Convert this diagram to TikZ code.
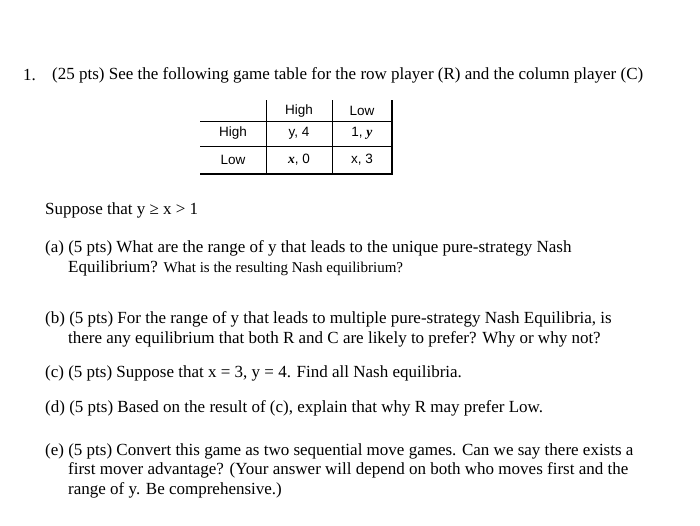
\documentclass[tikz,border=0pt]{standalone}
\usepackage{fontspec}
\setmainfont{Liberation Serif}
\newfontfamily\tabfont{Liberation Sans}
\begin{document}
\begin{tikzpicture}[x=1pt,y=-1pt,
  txt/.style={anchor=west,inner sep=0pt,font=\fontsize{17}{19}\selectfont},
  cell/.style={inner sep=0pt,font=\tabfont\fontsize{13.5}{15}\selectfont},
  grid/.style={line width=0.6pt},
  thick border/.style={line width=1.4pt}]
\useasboundingbox (0,0) rectangle (700,525);
\node[txt] (n1) at (23,75) {1.};
\node[txt] (l0) at (52,75) {(25 pts) See the following game table for the row player (R) and the column player (C)};
% table
\draw[grid] (266,100) -- (266,174) (332,100) -- (332,174);
\draw[grid] (200,121) -- (392,121) (200,146) -- (392,146);
\draw[thick border] (392,100) -- (392,175);
\draw[thick border] (200,174) -- (392,174);
\node[cell] (h1) at (299,111) {High};
\node[cell] (h2) at (362,111) {Low};
\node[cell] (r1) at (233,133) {High};
\node[cell] (r2) at (233,160) {Low};
\node[cell] (c11) at (299,133) {y, 4};
\node[cell] (c12) at (362,133) {1, \textit{\rmfamily\bfseries y}};
\node[cell] (c21) at (299,160) {\textit{\rmfamily\bfseries x}, 0};
\node[cell] (c22) at (362,160) {x, 3};
\node[txt] (s) at (45,210) {Suppose that y ≥ x > 1};
\node[txt] (a1) at (45,248) {(a) (5 pts) What are the range of y that leads to the unique pure-strategy Nash};
\node[txt] (a2) at (68,268) {Equilibrium? {\fontsize{15}{17}\selectfont What is the resulting Nash equilibrium?}};
\node[txt] (b1) at (45,319) {(b) (5 pts) For the range of y that leads to multiple pure-strategy Nash Equilibria, is};
\node[txt] (b2) at (68,339) {there any equilibrium that both R and C are likely to prefer? Why or why not?};
\node[txt] (c1) at (45,373) {(c) (5 pts) Suppose that x = 3, y = 4. Find all Nash equilibria.};
\node[txt] (d1) at (45,408) {(d) (5 pts) Based on the result of (c), explain that why R may prefer Low.};
\node[txt] (e1) at (45,451) {(e) (5 pts) Convert this game as two sequential move games. Can we say there exists a};
\node[txt] (e2) at (68,470) {first mover advantage? (Your answer will depend on both who moves first and the};
\node[txt] (e3) at (68,490) {range of y. Be comprehensive.)};
\end{tikzpicture}
\end{document}
